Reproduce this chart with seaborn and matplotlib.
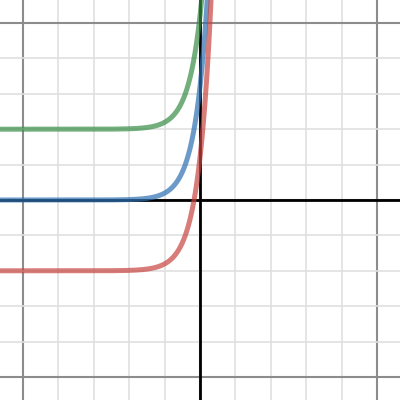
import numpy as np
import pandas as pd
import seaborn as sns
import matplotlib
matplotlib.use("Agg")
import matplotlib.pyplot as plt

# three exponential curves y = scale * e^(rate * x) + shift
curve_names = ["green", "blue", "red"]
curve_colors = ["#388c46", "#2d70b3", "#c74440"]
shifts = [2, 0, -2]
scales = [3.2, 3.2, 3.2]
rates = [2.8, 2.8, 2.8]

view = 5.65

sns.set_style("white")
fig, ax = plt.subplots(figsize=(4, 4), dpi=100)
fig.subplots_adjust(0, 0, 1, 1)

xs = np.linspace(-view, view, 1200)
frames = []
for name, s, a, k in zip(curve_names, shifts, scales, rates):
    frames.append(pd.DataFrame({"x": xs, "y": a * np.exp(k * xs) + s, "curve": name}))
df = pd.concat(frames)

# grid
ax.set_xticks(np.arange(-5, 6, 5))
ax.set_yticks(np.arange(-5, 6, 5))
ax.set_xticks(np.arange(-5, 6, 1), minor=True)
ax.set_yticks(np.arange(-5, 6, 1), minor=True)
ax.grid(which="minor", color="#e0e0e0", lw=1.2, zorder=0)
ax.grid(which="major", color="#8c8c8c", lw=1.5, zorder=0)
ax.tick_params(which="both", length=0, labelbottom=False, labelleft=False)
ax.set_axisbelow(True)
ax.axhline(0, color="black", lw=2.0, zorder=1)
ax.axvline(0, color="black", lw=2.0, zorder=1)

sns.lineplot(data=df, x="x", y="y", hue="curve", palette=dict(zip(curve_names, curve_colors)),
             hue_order=curve_names, lw=3.6, alpha=0.7, legend=False, sort=False,
             estimator=None, ax=ax, zorder=3)

ax.set_xlim(-view, view)
ax.set_ylim(-view, view)
ax.set_xlabel("")
ax.set_ylabel("")
for sp in ax.spines.values():
    sp.set_visible(False)

fig.savefig("out.png", dpi=100)
